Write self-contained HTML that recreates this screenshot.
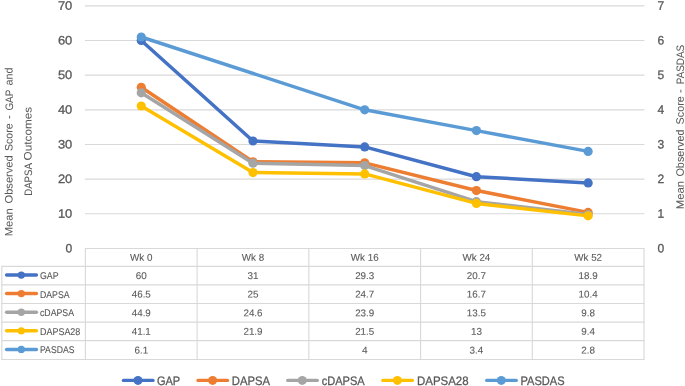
<!DOCTYPE html>
<html lang="en"><head><meta charset="utf-8"><title>Mean observed scores chart</title>
<style>html,body{margin:0;padding:0;background:#fff}svg{display:block}</style></head>
<body>
<svg width="685" height="386" viewBox="0 0 685 386" font-family='"Liberation Sans", sans-serif' fill="#595959">
<style>text{stroke:#595959;stroke-width:0.3px}.t text{stroke-width:0.1px}</style>
<rect width="685" height="386" fill="#fff"/>
<g stroke="#D9D9D9" stroke-width="1.15" fill="none">
<line x1="84.9" y1="213.79" x2="644.5" y2="213.79"/>
<line x1="84.9" y1="179.13" x2="644.5" y2="179.13"/>
<line x1="84.9" y1="144.47" x2="644.5" y2="144.47"/>
<line x1="84.9" y1="109.81" x2="644.5" y2="109.81"/>
<line x1="84.9" y1="75.15" x2="644.5" y2="75.15"/>
<line x1="84.9" y1="40.49" x2="644.5" y2="40.49"/>
<line x1="84.9" y1="5.83" x2="644.5" y2="5.83"/>
<line x1="84.9" y1="248.45" x2="644.5" y2="248.45"/>
<line x1="1.3" y1="266.3" x2="644.5" y2="266.3"/>
<line x1="1.3" y1="284.85" x2="644.5" y2="284.85"/>
<line x1="1.3" y1="303.5" x2="644.5" y2="303.5"/>
<line x1="1.3" y1="322.1" x2="644.5" y2="322.1"/>
<line x1="1.3" y1="340.55" x2="644.5" y2="340.55"/>
<line x1="1.3" y1="359.5" x2="644.5" y2="359.5"/>
<line x1="1.8" y1="266.3" x2="1.8" y2="359.5"/>
<line x1="85.4" y1="248.45" x2="85.4" y2="359.5"/>
<line x1="197.12" y1="248.45" x2="197.12" y2="359.5"/>
<line x1="308.84" y1="248.45" x2="308.84" y2="359.5"/>
<line x1="420.56" y1="248.45" x2="420.56" y2="359.5"/>
<line x1="532.28" y1="248.45" x2="532.28" y2="359.5"/>
<line x1="644" y1="248.45" x2="644" y2="359.5"/>
</g>
<text transform="translate(72.3,252.4) rotate(0.03)" font-size="12.2" text-anchor="end" textLength="6.7" lengthAdjust="spacingAndGlyphs">0</text>
<text transform="translate(657.5,252.4) rotate(0.03)" font-size="12.2" textLength="6.7" lengthAdjust="spacingAndGlyphs">0</text>
<text transform="translate(72.3,217.74) rotate(0.03)" font-size="12.2" text-anchor="end" textLength="14.4" lengthAdjust="spacingAndGlyphs">10</text>
<text transform="translate(657.5,217.74) rotate(0.03)" font-size="12.2" textLength="6.7" lengthAdjust="spacingAndGlyphs">1</text>
<text transform="translate(72.3,183.08) rotate(0.03)" font-size="12.2" text-anchor="end" textLength="14.4" lengthAdjust="spacingAndGlyphs">20</text>
<text transform="translate(657.5,183.08) rotate(0.03)" font-size="12.2" textLength="6.7" lengthAdjust="spacingAndGlyphs">2</text>
<text transform="translate(72.3,148.42) rotate(0.03)" font-size="12.2" text-anchor="end" textLength="14.4" lengthAdjust="spacingAndGlyphs">30</text>
<text transform="translate(657.5,148.42) rotate(0.03)" font-size="12.2" textLength="6.7" lengthAdjust="spacingAndGlyphs">3</text>
<text transform="translate(72.3,113.76) rotate(0.03)" font-size="12.2" text-anchor="end" textLength="14.4" lengthAdjust="spacingAndGlyphs">40</text>
<text transform="translate(657.5,113.76) rotate(0.03)" font-size="12.2" textLength="6.7" lengthAdjust="spacingAndGlyphs">4</text>
<text transform="translate(72.3,79.1) rotate(0.03)" font-size="12.2" text-anchor="end" textLength="14.4" lengthAdjust="spacingAndGlyphs">50</text>
<text transform="translate(657.5,79.1) rotate(0.03)" font-size="12.2" textLength="6.7" lengthAdjust="spacingAndGlyphs">5</text>
<text transform="translate(72.3,44.44) rotate(0.03)" font-size="12.2" text-anchor="end" textLength="14.4" lengthAdjust="spacingAndGlyphs">60</text>
<text transform="translate(657.5,44.44) rotate(0.03)" font-size="12.2" textLength="6.7" lengthAdjust="spacingAndGlyphs">6</text>
<text transform="translate(72.3,9.78) rotate(0.03)" font-size="12.2" text-anchor="end" textLength="14.4" lengthAdjust="spacingAndGlyphs">70</text>
<text transform="translate(657.5,9.78) rotate(0.03)" font-size="12.2" textLength="6.7" lengthAdjust="spacingAndGlyphs">7</text>
<g fill="none" stroke-width="3.5" stroke-linecap="round" stroke-linejoin="round">
<polyline stroke="#4472C4" points="141.26,40.49 252.98,141 364.7,146.9 476.42,176.7 588.14,182.94"/>
<g fill="#4472C4" stroke="none"><circle cx="141.26" cy="40.49" r="4.6"/><circle cx="252.98" cy="141" r="4.6"/><circle cx="364.7" cy="146.9" r="4.6"/><circle cx="476.42" cy="176.7" r="4.6"/><circle cx="588.14" cy="182.94" r="4.6"/></g>
<polyline stroke="#ED7D31" points="141.26,87.28 252.98,161.8 364.7,162.84 476.42,190.57 588.14,212.4"/>
<g fill="#ED7D31" stroke="none"><circle cx="141.26" cy="87.28" r="4.6"/><circle cx="252.98" cy="161.8" r="4.6"/><circle cx="364.7" cy="162.84" r="4.6"/><circle cx="476.42" cy="190.57" r="4.6"/><circle cx="588.14" cy="212.4" r="4.6"/></g>
<polyline stroke="#A5A5A5" points="141.26,92.83 252.98,163.19 364.7,165.61 476.42,201.66 588.14,214.48"/>
<g fill="#A5A5A5" stroke="none"><circle cx="141.26" cy="92.83" r="4.6"/><circle cx="252.98" cy="163.19" r="4.6"/><circle cx="364.7" cy="165.61" r="4.6"/><circle cx="476.42" cy="201.66" r="4.6"/><circle cx="588.14" cy="214.48" r="4.6"/></g>
<polyline stroke="#FFC000" points="141.26,106 252.98,172.54 364.7,173.93 476.42,203.39 588.14,215.87"/>
<g fill="#FFC000" stroke="none"><circle cx="141.26" cy="106" r="4.6"/><circle cx="252.98" cy="172.54" r="4.6"/><circle cx="364.7" cy="173.93" r="4.6"/><circle cx="476.42" cy="203.39" r="4.6"/><circle cx="588.14" cy="215.87" r="4.6"/></g>
<polyline stroke="#5B9BD5" points="141.26,37.02 364.7,109.81 476.42,130.61 588.14,151.4"/>
<g fill="#5B9BD5" stroke="none"><circle cx="141.26" cy="37.02" r="4.6"/><circle cx="364.7" cy="109.81" r="4.6"/><circle cx="476.42" cy="130.61" r="4.6"/><circle cx="588.14" cy="151.4" r="4.6"/></g>
</g>
<g class="t" font-size="9.8" text-anchor="middle">
<text transform="translate(141.26,260.82) rotate(0.03)" textLength="22.37" lengthAdjust="spacingAndGlyphs">Wk 0</text>
<text transform="translate(252.98,260.82) rotate(0.03)" textLength="22.37" lengthAdjust="spacingAndGlyphs">Wk 8</text>
<text transform="translate(364.7,260.82) rotate(0.03)" textLength="27.78" lengthAdjust="spacingAndGlyphs">Wk 16</text>
<text transform="translate(476.42,260.82) rotate(0.03)" textLength="27.78" lengthAdjust="spacingAndGlyphs">Wk 24</text>
<text transform="translate(588.14,260.82) rotate(0.03)" textLength="27.78" lengthAdjust="spacingAndGlyphs">Wk 52</text>
<text transform="translate(141.26,278.98) rotate(0.03)" textLength="11.02" lengthAdjust="spacingAndGlyphs">60</text>
<text transform="translate(252.98,278.98) rotate(0.03)" textLength="11.02" lengthAdjust="spacingAndGlyphs">31</text>
<text transform="translate(364.7,278.98) rotate(0.03)" textLength="19.12" lengthAdjust="spacingAndGlyphs">29.3</text>
<text transform="translate(476.42,278.98) rotate(0.03)" textLength="19.12" lengthAdjust="spacingAndGlyphs">20.7</text>
<text transform="translate(588.14,278.98) rotate(0.03)" textLength="19.12" lengthAdjust="spacingAndGlyphs">18.9</text>
<text transform="translate(141.26,297.57) rotate(0.03)" textLength="19.12" lengthAdjust="spacingAndGlyphs">46.5</text>
<text transform="translate(252.98,297.57) rotate(0.03)" textLength="11.02" lengthAdjust="spacingAndGlyphs">25</text>
<text transform="translate(364.7,297.57) rotate(0.03)" textLength="19.12" lengthAdjust="spacingAndGlyphs">24.7</text>
<text transform="translate(476.42,297.57) rotate(0.03)" textLength="19.12" lengthAdjust="spacingAndGlyphs">16.7</text>
<text transform="translate(588.14,297.57) rotate(0.03)" textLength="19.12" lengthAdjust="spacingAndGlyphs">10.4</text>
<text transform="translate(141.26,316.2) rotate(0.03)" textLength="19.12" lengthAdjust="spacingAndGlyphs">44.9</text>
<text transform="translate(252.98,316.2) rotate(0.03)" textLength="19.12" lengthAdjust="spacingAndGlyphs">24.6</text>
<text transform="translate(364.7,316.2) rotate(0.03)" textLength="19.12" lengthAdjust="spacingAndGlyphs">23.9</text>
<text transform="translate(476.42,316.2) rotate(0.03)" textLength="19.12" lengthAdjust="spacingAndGlyphs">13.5</text>
<text transform="translate(588.14,316.2) rotate(0.03)" textLength="13.71" lengthAdjust="spacingAndGlyphs">9.8</text>
<text transform="translate(141.26,334.73) rotate(0.03)" textLength="19.12" lengthAdjust="spacingAndGlyphs">41.1</text>
<text transform="translate(252.98,334.73) rotate(0.03)" textLength="19.12" lengthAdjust="spacingAndGlyphs">21.9</text>
<text transform="translate(364.7,334.73) rotate(0.03)" textLength="19.12" lengthAdjust="spacingAndGlyphs">21.5</text>
<text transform="translate(476.42,334.73) rotate(0.03)" textLength="11.02" lengthAdjust="spacingAndGlyphs">13</text>
<text transform="translate(588.14,334.73) rotate(0.03)" textLength="13.71" lengthAdjust="spacingAndGlyphs">9.4</text>
<text transform="translate(141.26,353.42) rotate(0.03)" textLength="13.71" lengthAdjust="spacingAndGlyphs">6.1</text>
<text transform="translate(364.7,353.42) rotate(0.03)" textLength="5.61" lengthAdjust="spacingAndGlyphs">4</text>
<text transform="translate(476.42,353.42) rotate(0.03)" textLength="13.71" lengthAdjust="spacingAndGlyphs">3.4</text>
<text transform="translate(588.14,353.42) rotate(0.03)" textLength="13.71" lengthAdjust="spacingAndGlyphs">2.8</text>
</g>
<g class="t" font-size="9.8">
<line x1="6.6" y1="275.03" x2="36.4" y2="275.03" stroke="#4472C4" stroke-width="3.5" stroke-linecap="round"/>
<circle cx="21.3" cy="275.03" r="3.65" fill="#4472C4"/>
<text transform="translate(40,278.93) rotate(0.03)" textLength="18.63" lengthAdjust="spacingAndGlyphs">GAP</text>
<line x1="6.6" y1="293.62" x2="36.4" y2="293.62" stroke="#ED7D31" stroke-width="3.5" stroke-linecap="round"/>
<circle cx="21.3" cy="293.62" r="3.65" fill="#ED7D31"/>
<text transform="translate(40,297.52) rotate(0.03)" textLength="29.53" lengthAdjust="spacingAndGlyphs">DAPSA</text>
<line x1="6.6" y1="312.25" x2="36.4" y2="312.25" stroke="#A5A5A5" stroke-width="3.5" stroke-linecap="round"/>
<circle cx="21.3" cy="312.25" r="3.65" fill="#A5A5A5"/>
<text transform="translate(40,316.15) rotate(0.03)" textLength="34.05" lengthAdjust="spacingAndGlyphs">cDAPSA</text>
<line x1="6.6" y1="330.78" x2="36.4" y2="330.78" stroke="#FFC000" stroke-width="3.5" stroke-linecap="round"/>
<circle cx="21.3" cy="330.78" r="3.65" fill="#FFC000"/>
<text transform="translate(40,334.68) rotate(0.03)" textLength="40.35" lengthAdjust="spacingAndGlyphs">DAPSA28</text>
<line x1="6.6" y1="349.47" x2="36.4" y2="349.47" stroke="#5B9BD5" stroke-width="3.5" stroke-linecap="round"/>
<circle cx="21.3" cy="349.47" r="3.65" fill="#5B9BD5"/>
<text transform="translate(40,353.37) rotate(0.03)" textLength="34.43" lengthAdjust="spacingAndGlyphs">PASDAS</text>
</g>
<g font-size="12.3">
<line x1="123.4" y1="380.4" x2="153" y2="380.4" stroke="#4472C4" stroke-width="3.3" stroke-linecap="round"/>
<circle cx="138" cy="380.4" r="4.5" fill="#4472C4"/>
<text transform="translate(156.9,384.6) rotate(0.03)" textLength="23.2" lengthAdjust="spacingAndGlyphs">GAP</text>
<line x1="198" y1="380.4" x2="227.6" y2="380.4" stroke="#ED7D31" stroke-width="3.3" stroke-linecap="round"/>
<circle cx="212.6" cy="380.4" r="4.5" fill="#ED7D31"/>
<text transform="translate(231.8,384.6) rotate(0.03)" textLength="38.2" lengthAdjust="spacingAndGlyphs">DAPSA</text>
<line x1="287.7" y1="380.4" x2="317.3" y2="380.4" stroke="#A5A5A5" stroke-width="3.3" stroke-linecap="round"/>
<circle cx="302.3" cy="380.4" r="4.5" fill="#A5A5A5"/>
<text transform="translate(321.7,384.6) rotate(0.03)" textLength="43.0" lengthAdjust="spacingAndGlyphs">cDAPSA</text>
<line x1="382.8" y1="380.4" x2="412.4" y2="380.4" stroke="#FFC000" stroke-width="3.3" stroke-linecap="round"/>
<circle cx="397.4" cy="380.4" r="4.5" fill="#FFC000"/>
<text transform="translate(417.0,384.6) rotate(0.03)" textLength="51.5" lengthAdjust="spacingAndGlyphs">DAPSA28</text>
<line x1="486.7" y1="380.4" x2="516.3" y2="380.4" stroke="#5B9BD5" stroke-width="3.3" stroke-linecap="round"/>
<circle cx="501.3" cy="380.4" r="4.5" fill="#5B9BD5"/>
<text transform="translate(520.5,384.6) rotate(0.03)" textLength="44.0" lengthAdjust="spacingAndGlyphs">PASDAS</text>
</g>
<text transform="translate(12.55,236.3) rotate(-89.97)" font-size="10.8" style="stroke-width:0.05px" textLength="28" lengthAdjust="spacingAndGlyphs">Mean</text>
<text transform="translate(12.55,203.5) rotate(-89.97)" font-size="10.8" style="stroke-width:0.05px" textLength="48.2" lengthAdjust="spacingAndGlyphs">Observed</text>
<text transform="translate(12.55,151.1) rotate(-89.97)" font-size="10.8" style="stroke-width:0.05px" textLength="27.7" lengthAdjust="spacingAndGlyphs">Score</text>
<text transform="translate(12.55,119) rotate(-89.97)" font-size="10.8" style="stroke-width:0.05px" textLength="3.7" lengthAdjust="spacingAndGlyphs">-</text>
<text transform="translate(12.55,110.6) rotate(-89.97)" font-size="10.8" style="stroke-width:0.05px" textLength="20.9" lengthAdjust="spacingAndGlyphs">GAP</text>
<text transform="translate(12.55,85.4) rotate(-89.97)" font-size="10.8" style="stroke-width:0.05px" textLength="17.9" lengthAdjust="spacingAndGlyphs">and</text>
<text transform="translate(31.55,195.8) rotate(-89.97)" font-size="10.8" style="stroke-width:0.05px" textLength="32.7" lengthAdjust="spacingAndGlyphs">DAPSA</text>
<text transform="translate(31.55,160.4) rotate(-89.97)" font-size="10.8" style="stroke-width:0.05px" textLength="53.5" lengthAdjust="spacingAndGlyphs">Outcomes</text>
<text transform="translate(683.75,209.3) rotate(-89.97)" font-size="10.8" style="stroke-width:0.05px" textLength="28.4" lengthAdjust="spacingAndGlyphs">Mean</text>
<text transform="translate(683.75,176.6) rotate(-89.97)" font-size="10.8" style="stroke-width:0.05px" textLength="47.1" lengthAdjust="spacingAndGlyphs">Observed</text>
<text transform="translate(683.75,124.4) rotate(-89.97)" font-size="10.8" style="stroke-width:0.05px" textLength="28.1" lengthAdjust="spacingAndGlyphs">Score</text>
<text transform="translate(683.75,92.9) rotate(-89.97)" font-size="10.8" style="stroke-width:0.05px" textLength="3.6" lengthAdjust="spacingAndGlyphs">-</text>
<text transform="translate(683.75,84.2) rotate(-89.97)" font-size="10.8" style="stroke-width:0.05px" textLength="39.4" lengthAdjust="spacingAndGlyphs">PASDAS</text>
</svg>
</body></html>
